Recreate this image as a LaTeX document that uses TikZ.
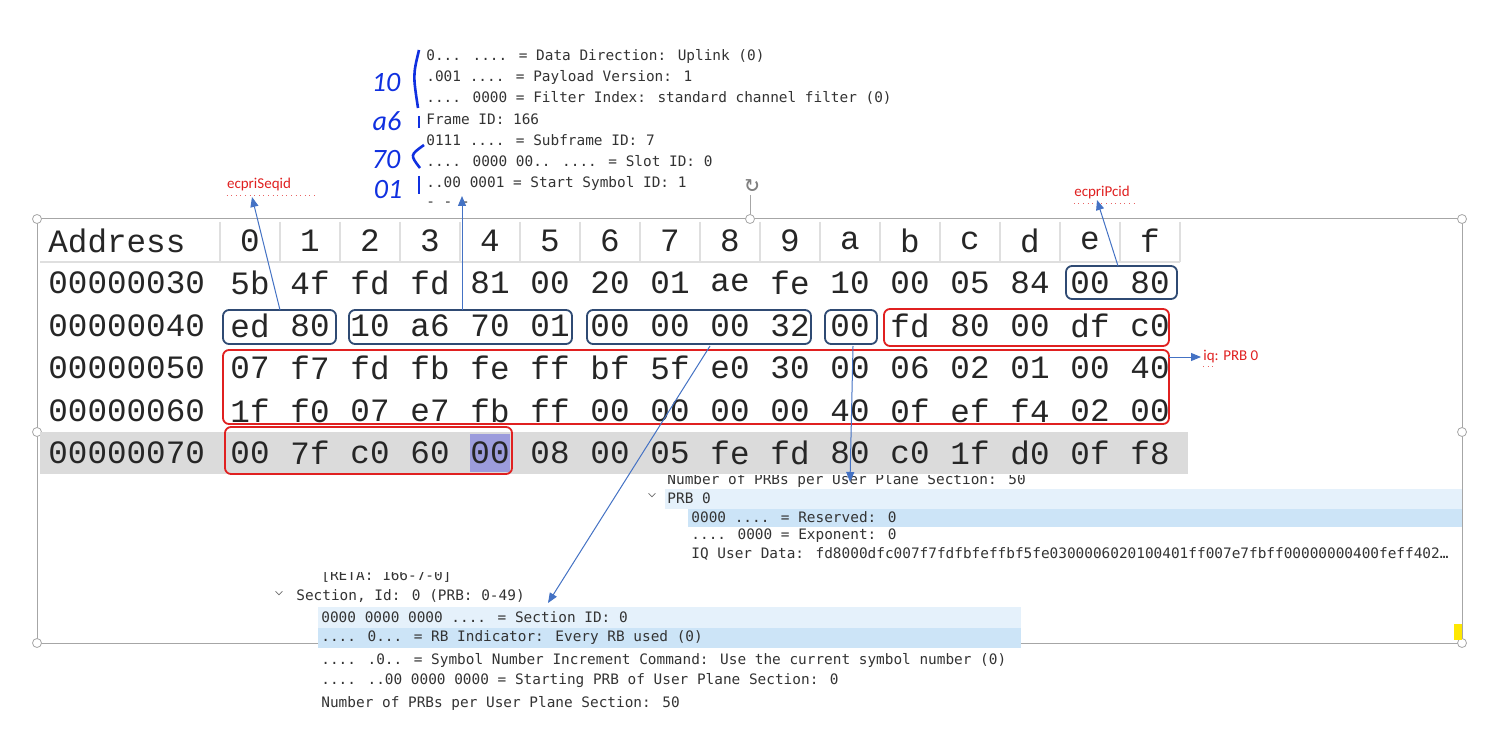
\documentclass[tikz,border=0pt]{standalone}
\usepackage{fontspec}
\newfontfamily\hexf{Liberation Mono}
\newfontfamily\smf{DejaVu Sans Mono}
\newfontfamily\lbl{Carlito}
\usetikzlibrary{arrows.meta}
\definecolor{bx}{HTML}{2F4A73}
\definecolor{rd}{HTML}{E02020}
\definecolor{ar}{HTML}{4472C4}
\definecolor{hlA}{HTML}{E5F1FB}
\definecolor{hlB}{HTML}{CCE4F7}
\definecolor{hand}{HTML}{1030E0}
\definecolor{sel}{HTML}{9C9CDC}
\tikzset{
 hx/.style={font=\hexf\fontsize{16.3}{18}\selectfont, text=black!85, inner sep=0pt},
 sm/.style={font=\smf\fontsize{7.2}{8}\selectfont, text=black!80, anchor=west, inner sep=0pt},
 bbox/.style={draw=bx, rounded corners=3pt, line width=0.9pt},
 rbox/.style={draw=rd, rounded corners=3pt, line width=0.9pt},
 arr/.style={draw=ar, line width=0.5pt, -{Triangle[length=5pt,width=4pt]}},
 rl/.style={font=\lbl\fontsize{7.5}{8}\selectfont, text=rd, inner sep=0pt},
 hd/.style={draw=gray!70, fill=white, line width=0.4pt, circle, inner sep=0pt, minimum size=4.5pt},
 hw/.style={font=\lbl\fontsize{14}{14}\selectfont\itshape, text=hand, inner sep=0pt},
 chev/.style={font=\smf\fontsize{7}{7}\selectfont, text=black!70, inner sep=0pt}
}
\begin{document}
\begin{tikzpicture}[x=0.5pt,y=-0.5pt]
\useasboundingbox (0,0) rectangle (1497,754);
\fill[white] (0,0) rectangle (1497,754);
% top decoded text
\node[sm] (t1) at (426,56) {0{.}{.}{.} .... = Data Direction: Uplink (0)};
\node[sm] (t2) at (426,77) {.001 .... = Payload Version: 1};
\node[sm] (t3) at (426,98) {.... 0000 = Filter Index: standard channel filter (0)};
\node[sm] (t4) at (426,119) {Frame ID: 166};
\node[sm] (t5) at (426,140) {0111 .... = Subframe ID: 7};
\node[sm] (t6) at (426,161) {.... 0000 00.. .... = Slot ID: 0};
\node[sm] (t7) at (426,183) {..00 0001 = Start Symbol ID: 1};
\begin{scope}
\clip (420,197) rectangle (700,204);
\node[sm] (tcut) at (426,204) {-  -        -};
\end{scope}
% handwriting
\node[hw] (h1) at (386,83) {10};
\node[hw] (h2) at (387,121) {a6};
\node[hw] (h3) at (386,160) {70};
\node[hw] (h4) at (388,190) {01};
\draw[hand, line width=1.3pt] (419,50) .. controls (413,75) .. (418,108);
\draw[hand, line width=1.3pt] (419,116) -- (419,128);
\draw[hand, line width=1.3pt] (424,145) .. controls (410,155) .. (420,168);
\draw[hand, line width=1.3pt] (419,176) -- (419,194);
% rotate icon
\node[font=\smf\fontsize{12}{12}\selectfont, text=gray] (rot) at (752,186) {\char"21BB};
\draw[gray!70, line width=0.4pt] (750,195) -- (750,219);
% selection frame
\draw[gray!70, line width=0.5pt] (37,219) rectangle (1462,643);
\foreach \p [count=\k] in {(37,219),(750,219),(1462,219),(37,432),(1462,432),(37,643),(750,643),(1462,643)}
  \node[hd] (hd\k) at \p {};
\fill[yellow!90!orange] (1454,624) rectangle (1462,640);
% header grid
\draw[gray!25, line width=0.6pt] (40,262) -- (1180,262);
\foreach \x in {220,280,340,400,460,520,580,640,700,760,820,880,940,1000,1060,1120,1180}
  \draw[gray!25, line width=0.6pt] (\x,222) -- (\x,262);
% gray row
\fill[gray!28] (40,432) rectangle (1188,474);
\fill[sel] (470,434) rectangle (510,472);
% address column
\foreach \a/\y in {Address/241,00000030/283,00000040/326,00000050/368,00000060/411,00000070/453}
  \node[hx, anchor=west] (ad\y) at (48,\y) {\a};
\foreach \h [count=\c from 0] in {0,1,2,3,4,5,6,7,8,9,a,b,c,d,e,f}
  \node[hx] (hh\c) at (250+60*\c,241) {\h};
\newcommand\hexrow[2]{\foreach \h [count=\c from 0] in {#2} \node[hx] (r#1c\c) at (250+60*\c,#1) {\h};}
\hexrow{283}{5b,4f,fd,fd,81,00,20,01,ae,fe,10,00,05,84,00,80}
\hexrow{326}{ed,80,10,a6,70,01,00,00,00,32,00,fd,80,00,df,c0}
\hexrow{368}{07,f7,fd,fb,fe,ff,bf,5f,e0,30,00,06,02,01,00,40}
\hexrow{411}{1f,f0,07,e7,fb,ff,00,00,00,00,40,0f,ef,f4,02,00}
\hexrow{453}{00,7f,c0,60,00,08,00,05,fe,fd,80,c0,1f,d0,0f,f8}
% boxes
\draw[bbox] (1066,266) rectangle (1177,299);
\draw[bbox] (223,310) rectangle (336,344);
\draw[bbox] (349,310) rectangle (572,344);
\draw[bbox] (587,310) rectangle (811,344);
\draw[bbox] (825,310) rectangle (877,344);
\draw[rbox] (884,309) rectangle (1169,346);
\draw[rbox] (223,350) rectangle (1169,424);
\draw[rbox] (225,427) rectangle (512,474);
% labels
\node[rl] (seq) at (259,185) {ecpriSeqid};
\node[rl] (pcid) at (1102,193) {ecpriPcid};
\node[rl, anchor=west] (iq) at (1203,357) {iq: PRB 0};
\draw[rd!70, line width=0.3pt, dotted] (seq.south west) ++(0,3) -- ++(90,0);
\draw[rd!70, line width=0.3pt, dotted] (pcid.south west) ++(0,3) -- ++(64,0);
\draw[rd!70, line width=0.3pt, dotted] (iq.south west) ++(0,3) -- ++(12,0);
% right block
\fill[hlA] (665,489) rectangle (1462,509);
\fill[hlB] (688,509) rectangle (1462,527);
\begin{scope}
\clip (600,475) rectangle (1100,490);
\node[sm] (nprb2) at (667,480) {Number of PRBs per User Plane Section: 50};
\end{scope}
\node[chev] (ch1) at (652,496) {\char"2335};
\node[sm] (prb) at (667,498) {PRB 0};
\node[sm] (res) at (691,517) {0000 .... = Reserved: 0};
\node[sm] (exp) at (691,536) {.... 0000 = Exponent: 0};
\node[sm] (iqd) at (691,554) {IQ User Data: fd8000dfc007f7fdfbfeffbf5fe0300006020100401ff007e7fbff00000000400feff402\ldots};
% left block
\fill[hlA] (318,607) rectangle (1021,628);
\fill[hlB] (318,628) rectangle (1021,648);
\begin{scope}
\clip (300,572) rectangle (600,590);
\node[sm] (reta) at (321,576) {[RETA: 166-7-0]};
\end{scope}
\node[chev] (ch2) at (279,594) {\char"2335};
\node[sm] (sec) at (296,596) {Section, Id: 0 (PRB: 0-49)};
\node[sm] (s1) at (321,617) {0000 0000 0000 .... = Section ID: 0};
\node[sm] (s2) at (321,638) {.... 0{.}{.}{.} = RB Indicator: Every RB used (0)};
\node[sm] (s3) at (321,660) {.... .0.. = Symbol Number Increment Command: Use the current symbol number (0)};
\node[sm] (s4) at (321,681) {.... ..00 0000 0000 = Starting PRB of User Plane Section: 0};
\node[sm] (s5) at (321,703) {Number of PRBs per User Plane Section: 50};
% arrows
\coordinate (a1) at (280,310); \coordinate (a1e) at (252,197);
\draw[arr] (a1) -- (a1e);
\coordinate (a2) at (1118,266); \coordinate (a2e) at (1097,200);
\draw[arr] (a2) -- (a2e);
\coordinate (a3) at (1169,357); \coordinate (a3e) at (1201,357);
\draw[arr] (a3) -- (a3e);
\coordinate (a4) at (462,310); \coordinate (a4e) at (462,196);
\draw[arr] (a4) -- (a4e);
\coordinate (a5) at (710,346); \coordinate (a5e) at (548,603);
\draw[arr] (a5) -- (a5e);
\coordinate (a6) at (853,346); \coordinate (a6e) at (850,482);
\draw[arr] (a6) -- (a6e);
\end{tikzpicture}
\end{document}
